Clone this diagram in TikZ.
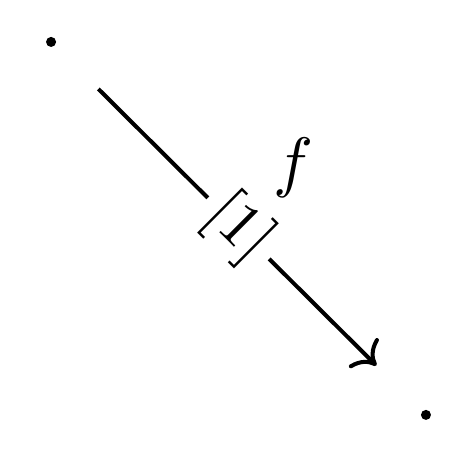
\documentclass[tikz,border=0pt]{standalone}
\usetikzlibrary{arrows.meta}
\tikzset{
    pt/.style={circle,fill,inner sep=0pt,minimum size=1.5pt},
    shiftarrow/.style={line width=0.6pt,-{Computer Modern Rightarrow},shorten <=9pt,shorten >=9.5pt}
}
\begin{document}
\begin{tikzpicture}
    \useasboundingbox (0,0) rectangle (2.487,2.413);
    \node[pt] (src) at (0.268,2.193) {};
    \node[pt] (tgt) at (2.235,0.236) {};

    \draw[shiftarrow] (src) -- (tgt)
        node[midway,sloped,fill=white,inner sep=1.5pt,scale=0.95] (shift) {$[1]$}
        node[midway,xshift=8.2pt,yshift=9pt] (lbl) {$f$};

\end{tikzpicture}
\end{document}
